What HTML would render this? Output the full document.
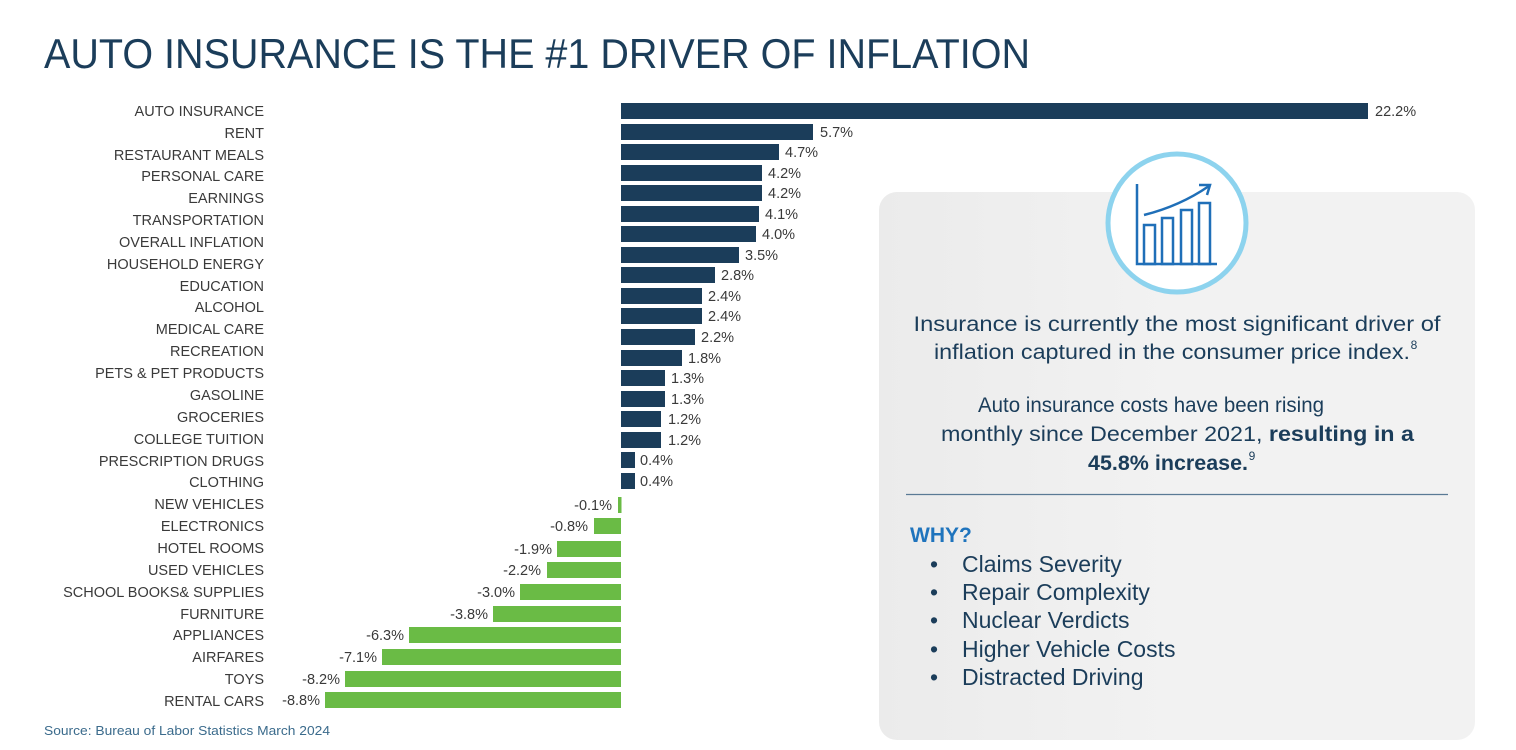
<!DOCTYPE html>
<html><head><meta charset="utf-8"><style>
html,body{margin:0;padding:0;background:#fff;}
svg{display:block;font-family:"Liberation Sans",sans-serif;}
</style></head><body>
<svg width="1516" height="750" viewBox="0 0 1516 750" xmlns="http://www.w3.org/2000/svg">
<defs>
<linearGradient id="bg" x1="0" x2="1" y1="0" y2="0">
<stop offset="0" stop-color="#ebebeb"/><stop offset="0.5" stop-color="#f2f2f2"/><stop offset="1" stop-color="#f2f2f2"/>
</linearGradient>
</defs>
<text x="44" y="68" font-size="42" fill="#1b3d5a" textLength="986" lengthAdjust="spacingAndGlyphs">AUTO INSURANCE IS THE #1 DRIVER OF INFLATION</text>

<g font-size="14.5" fill="#3a3a3a" text-anchor="end">
<text x="264" y="116">AUTO INSURANCE</text>
<text x="264" y="138">RENT</text>
<text x="264" y="160">RESTAURANT MEALS</text>
<text x="264" y="181">PERSONAL CARE</text>
<text x="264" y="203">EARNINGS</text>
<text x="264" y="225">TRANSPORTATION</text>
<text x="264" y="247">OVERALL INFLATION</text>
<text x="264" y="269">HOUSEHOLD ENERGY</text>
<text x="264" y="291">EDUCATION</text>
<text x="264" y="312">ALCOHOL</text>
<text x="264" y="334">MEDICAL CARE</text>
<text x="264" y="356">RECREATION</text>
<text x="264" y="378">PETS &amp; PET PRODUCTS</text>
<text x="264" y="400">GASOLINE</text>
<text x="264" y="422">GROCERIES</text>
<text x="264" y="444">COLLEGE TUITION</text>
<text x="264" y="466">PRESCRIPTION DRUGS</text>
<text x="264" y="487">CLOTHING</text>
<text x="264" y="509">NEW VEHICLES</text>
<text x="264" y="531">ELECTRONICS</text>
<text x="264" y="553">HOTEL ROOMS</text>
<text x="264" y="575">USED VEHICLES</text>
<text x="264" y="597">SCHOOL BOOKS&amp; SUPPLIES</text>
<text x="264" y="619">FURNITURE</text>
<text x="264" y="640">APPLIANCES</text>
<text x="264" y="662">AIRFARES</text>
<text x="264" y="684">TOYS</text>
<text x="264" y="706">RENTAL CARS</text>
</g>

<g fill="#1b3d5a">
<rect x="621" y="103" width="747" height="16"/>
<rect x="621" y="124" width="192" height="16"/>
<rect x="621" y="144" width="158" height="16"/>
<rect x="621" y="165" width="141" height="16"/>
<rect x="621" y="185" width="141" height="16"/>
<rect x="621" y="206" width="138" height="16"/>
<rect x="621" y="226" width="135" height="16"/>
<rect x="621" y="247" width="118" height="16"/>
<rect x="621" y="267" width="94" height="16"/>
<rect x="621" y="288" width="81" height="16"/>
<rect x="621" y="308" width="81" height="16"/>
<rect x="621" y="329" width="74" height="16"/>
<rect x="621" y="350" width="61" height="16"/>
<rect x="621" y="370" width="44" height="16"/>
<rect x="621" y="391" width="44" height="16"/>
<rect x="621" y="411" width="40" height="16"/>
<rect x="621" y="432" width="40" height="16"/>
<rect x="621" y="452" width="14" height="16"/>
<rect x="621" y="473" width="14" height="16"/>
</g>
<g fill="#6abb45">
<rect x="618" y="497" width="3.5" height="16"/>
<rect x="594" y="518" width="27" height="16"/>
<rect x="557" y="541" width="64" height="16"/>
<rect x="547" y="562" width="74" height="16"/>
<rect x="520" y="584" width="101" height="16"/>
<rect x="493" y="606" width="128" height="16"/>
<rect x="409" y="627" width="212" height="16"/>
<rect x="382" y="649" width="239" height="16"/>
<rect x="345" y="671" width="276" height="16"/>
<rect x="325" y="692" width="296" height="16"/>
</g>
<g font-size="14.5" fill="#3a3a3a">
<text x="1375" y="116">22.2%</text>
<text x="820" y="137">5.7%</text>
<text x="785" y="157">4.7%</text>
<text x="768" y="178">4.2%</text>
<text x="768" y="198">4.2%</text>
<text x="765" y="219">4.1%</text>
<text x="762" y="239">4.0%</text>
<text x="745" y="260">3.5%</text>
<text x="721" y="280">2.8%</text>
<text x="708" y="301">2.4%</text>
<text x="708" y="321">2.4%</text>
<text x="701" y="342">2.2%</text>
<text x="688" y="363">1.8%</text>
<text x="671" y="383">1.3%</text>
<text x="671" y="404">1.3%</text>
<text x="668" y="424">1.2%</text>
<text x="668" y="445">1.2%</text>
<text x="640" y="465">0.4%</text>
<text x="640" y="486">0.4%</text>
</g>
<g font-size="14.5" fill="#3a3a3a" text-anchor="end">
<text x="612" y="510">-0.1%</text>
<text x="588" y="531">-0.8%</text>
<text x="552" y="554">-1.9%</text>
<text x="541" y="575">-2.2%</text>
<text x="515" y="597">-3.0%</text>
<text x="488" y="619">-3.8%</text>
<text x="404" y="640">-6.3%</text>
<text x="377" y="662">-7.1%</text>
<text x="340" y="684">-8.2%</text>
<text x="320" y="705">-8.8%</text>
</g>
<text x="44" y="735" font-size="13" fill="#3b6b8c" textLength="286" lengthAdjust="spacingAndGlyphs">Source: Bureau of Labor Statistics March 2024</text>

<rect x="879" y="192" width="596" height="548" rx="18" fill="url(#bg)"/>
<circle cx="1177" cy="223" r="69" fill="#fff" stroke="#8dd3ee" stroke-width="5"/>
<g fill="none" stroke="#1f6fb8" stroke-width="2.5">
<path d="M1137 184 V264 H1217"/>
<rect x="1144" y="225" width="11" height="39"/>
<rect x="1162" y="218" width="11" height="46"/>
<rect x="1181" y="210" width="11" height="54"/>
<rect x="1199" y="203" width="11" height="61"/>
<path d="M1144 215 Q1180 206 1209 186"/>
<path d="M1199 185 L1210 185 L1207 195"/>
</g>

<g font-size="21" fill="#1b3d5a" text-anchor="middle">
<text x="1177" y="331" textLength="527" lengthAdjust="spacingAndGlyphs">Insurance is currently the most significant driver of</text>
<text x="1172" y="359" textLength="476" lengthAdjust="spacingAndGlyphs">inflation captured in the consumer price index.</text>
<text x="1414" y="349" font-size="12">8</text>
<text x="1151" y="412" textLength="346" lengthAdjust="spacingAndGlyphs">Auto insurance costs have been rising</text>
<text x="1168" y="470" font-weight="bold" textLength="160" lengthAdjust="spacingAndGlyphs">45.8% increase.</text>
<text x="1252" y="460" font-size="12">9</text>
</g>
<text x="941" y="441" font-size="21" fill="#1b3d5a" textLength="473" lengthAdjust="spacingAndGlyphs">monthly since December 2021, <tspan font-weight="bold">resulting in a</tspan></text>
<line x1="906" y1="494.5" x2="1448" y2="494.5" stroke="#5a7a95" stroke-width="1.2"/>
<text x="910" y="542" font-size="21" font-weight="bold" fill="#1f74bd">WHY?</text>
<g font-size="23" fill="#1b3d5a">
<text x="930" y="572">•</text><text x="962" y="572">Claims Severity</text>
<text x="930" y="600">•</text><text x="962" y="600">Repair Complexity</text>
<text x="930" y="628">•</text><text x="962" y="628">Nuclear Verdicts</text>
<text x="930" y="657">•</text><text x="962" y="657">Higher Vehicle Costs</text>
<text x="930" y="685">•</text><text x="962" y="685">Distracted Driving</text>
</g>
</svg>
</body></html>
